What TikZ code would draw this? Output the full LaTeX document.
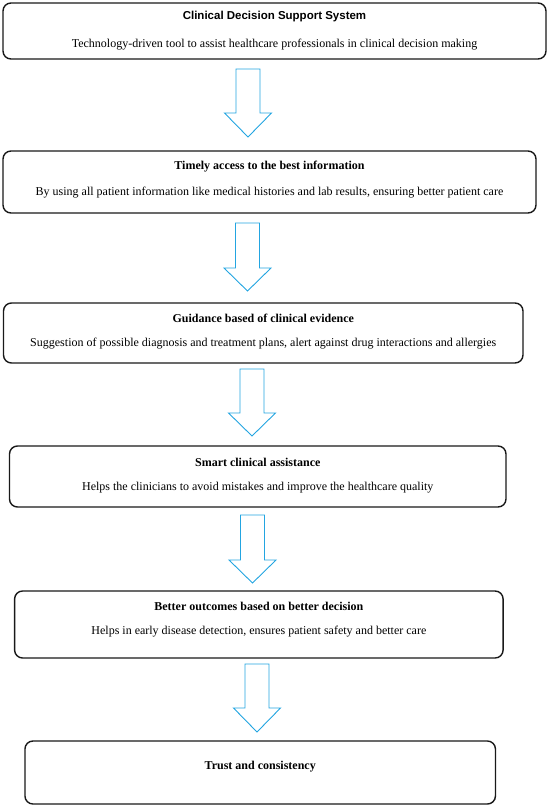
\documentclass[tikz,border=0pt]{standalone}
\usepackage{fontspec}
\setmainfont{Liberation Serif}
\newfontfamily\arialfont{Liberation Sans}
\definecolor{arrowblue}{RGB}{35,165,225}
\definecolor{boxline}{RGB}{25,25,25}
\tikzset{
  box/.style={draw=boxline, line width=1.4pt, rounded corners=8pt, inner sep=0pt, fill=white},
  ttl/.style={font=\fontsize{12}{14}\selectfont\bfseries, inner sep=0pt},
  desc/.style={font=\fontsize{12}{14}\selectfont, inner sep=0pt},
  barrow/.style={draw=arrowblue, line width=0.9pt, fill=white, line join=miter}
}
\newcommand\blockarrow[5]{% name, center x, top y, head-start y, tip y
  \draw[barrow] (#2-12,#3) -- (#2+12,#3) -- (#2+12,#4) -- (#2+23.5,#4) -- (#2,#5) -- (#2-23.5,#4) -- (#2-12,#4) -- cycle;
  \coordinate (#1) at (#2,#5);
}
\begin{document}
\begin{tikzpicture}[x=1pt,y=1pt]
\useasboundingbox (0,0) rectangle (550,-808);
% boxes
\node[box, minimum width=543pt, minimum height=56pt] (b1) at (274.5,-31) {};
\node[box, minimum width=533pt, minimum height=62pt] (b2) at (269.5,-182) {};
\node[box, minimum width=519.5pt, minimum height=60pt] (b3) at (263.25,-333) {};
\node[box, minimum width=496.5pt, minimum height=61pt] (b4) at (257.75,-476.5) {};
\node[box, minimum width=488.5pt, minimum height=67pt] (b5) at (258.85,-624.5) {};
\node[box, minimum width=470.5pt, minimum height=63pt] (b6) at (260.2,-772.5) {};
% texts
\node[ttl, font=\arialfont\fontsize{11.5}{13}\selectfont\bfseries] (t1) at (b1.center |- 0,-17) {Clinical Decision Support System};
\node[desc] (d1) at (b1.center |- 0,-45) {Technology-driven tool to assist healthcare professionals in clinical decision making};
\node[ttl] (t2) at (b2.center |- 0,-167) {Timely access to the best information};
\node[desc] (d2) at (b2.center |- 0,-193) {By using all patient information like medical histories and lab results, ensuring better patient care};
\node[ttl] (t3) at (b3.center |- 0,-318) {Guidance based of clinical evidence};
\node[desc] (d3) at (b3.center |- 0,-344) {Suggestion of possible diagnosis and treatment plans, alert against drug interactions and allergies};
\node[ttl] (t4) at (b4.center |- 0,-462) {Smart clinical assistance};
\node[desc] (d4) at (b4.center |- 0,-488) {Helps the clinicians to avoid mistakes and improve the healthcare quality};
\node[ttl] (t5) at (b5.center |- 0,-606) {Better outcomes based on better decision};
\node[desc] (d5) at (b5.center |- 0,-632) {Helps in early disease detection, ensures patient safety and better care};
\node[ttl] (t6) at (b6.center |- 0,-767) {Trust and consistency};
% block arrows
\blockarrow{a1}{248}{-69}{-113}{-137}
\blockarrow{a2}{247.5}{-223}{-268}{-291}
\blockarrow{a3}{252}{-369}{-413}{-436}
\blockarrow{a4}{252.5}{-515}{-560}{-583}
\blockarrow{a5}{257}{-664}{-708}{-732}
\end{tikzpicture}
\end{document}
